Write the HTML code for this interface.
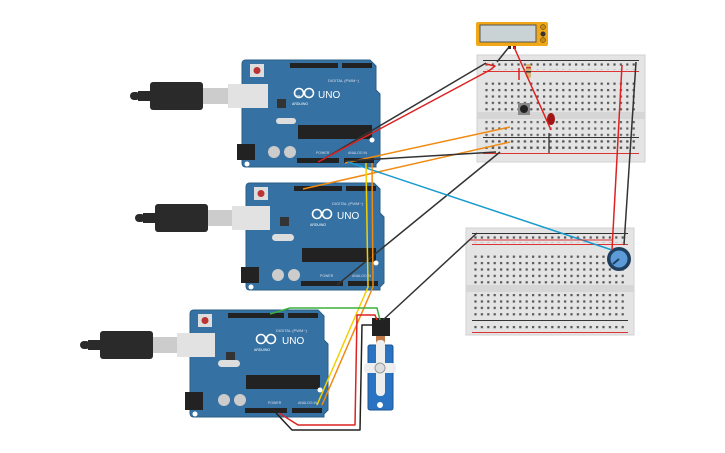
<!DOCTYPE html>
<html><head><meta charset="utf-8"><style>
html,body{margin:0;padding:0;background:#fff;width:725px;height:453px;overflow:hidden}
svg{display:block}
text{font-family:"Liberation Sans",sans-serif}
</style></head><body>
<svg width="725" height="453" viewBox="0 0 725 453" xmlns="http://www.w3.org/2000/svg">
<defs>
<pattern id="dots" width="6.4" height="6.4" patternUnits="userSpaceOnUse">
<rect x="2" y="2" width="2.2" height="2.2" fill="#555"/>
</pattern>
</defs>

<!-- ===== Breadboard 1 ===== -->
<g transform="translate(477,55)">
<rect width="168" height="107" fill="#e4e4e4" stroke="#d2d2d2"/>
<rect x="6" y="5" width="156" height="1" fill="#333"/>
<rect x="6" y="16" width="156" height="1" fill="#d33"/>
<rect x="8" y="7" width="152" height="8" fill="url(#dots)"/>
<rect x="8" y="24" width="152" height="33" fill="url(#dots)"/>
<rect x="0" y="57" width="168" height="7" fill="#d6d6d6"/>
<rect x="8" y="64" width="152" height="32" fill="url(#dots)" opacity="0.9"/>
<rect x="6" y="82" width="156" height="1" fill="#333"/>
<rect x="8" y="86" width="152" height="8" fill="url(#dots)"/>
<rect x="6" y="98" width="156" height="1" fill="#d33"/>
</g>
<!-- ===== Breadboard 2 ===== -->
<g transform="translate(466,228)">
<rect width="168" height="107" fill="#e4e4e4" stroke="#d2d2d2"/>
<rect x="6" y="5" width="156" height="1" fill="#333"/>
<rect x="6" y="16" width="156" height="1" fill="#d33"/>
<rect x="8" y="7" width="152" height="8" fill="url(#dots)"/>
<rect x="8" y="24" width="152" height="33" fill="url(#dots)"/>
<rect x="0" y="57" width="168" height="7" fill="#d6d6d6"/>
<rect x="8" y="64" width="152" height="26" fill="url(#dots)"/>
<rect x="6" y="92" width="156" height="1" fill="#333"/>
<rect x="8" y="94" width="152" height="8" fill="url(#dots)"/>
<rect x="6" y="104" width="156" height="1" fill="#d33"/>
</g>

<!-- meter / LCD -->
<rect x="476" y="22" width="72" height="24" rx="2" fill="#f0a818"/>
<rect x="480" y="25" width="56" height="17" fill="#c9d3d6" stroke="#555"/>
<circle cx="543" cy="27" r="2.5" fill="#c98a10" stroke="#333" stroke-width=".5"/>
<circle cx="543" cy="34" r="2.5" fill="#333"/>
<circle cx="543" cy="40" r="2.5" fill="#c98a10" stroke="#333" stroke-width=".5"/>
<rect x="508" y="46" width="3" height="3" fill="#222"/><rect x="513" y="46" width="3" height="3" fill="#c00"/>

<!-- resistor, button, LED -->
<rect x="526" y="64" width="5" height="14" rx="2" fill="#d8b070"/>
<rect x="526" y="67" width="5" height="1.5" fill="#c33"/><rect x="526" y="71" width="5" height="1.5" fill="#333"/>
<rect x="518" y="103" width="12" height="12" fill="#888"/><circle cx="524" cy="109" r="4" fill="#222"/>
<ellipse cx="551" cy="119" rx="4" ry="6" fill="#a01515"/>
<line x1="519" y1="68" x2="519" y2="80" stroke="#d22" stroke-width="1.5"/>
<line x1="549" y1="133" x2="549" y2="153" stroke="#333" stroke-width="1.3"/>

<!-- ===== Arduino boards ===== -->
<g id="a1" transform="translate(242,60)">
<path d="M0 4 Q0 0 4 0 H128 L134 6 V30 L138 34 V100 L134 104 V107 H4 Q0 107 0 103 Z" fill="#3572a3" stroke="#2a5d86"/>
<rect x="8" y="4" width="14" height="13" fill="#ddd"/><circle cx="15" cy="10.5" r="3.5" fill="#b33"/>
<rect x="48" y="3" width="48" height="5" fill="#222"/><rect x="100" y="3" width="30" height="5" fill="#222"/>
<text x="86" y="22" font-size="4" fill="#dde">DIGITAL (PWM~)</text>
<text x="54" y="38" font-size="6" fill="#fff">∞</text>
<circle cx="57" cy="33" r="4.5" fill="none" stroke="#fff" stroke-width="1.6"/><circle cx="67" cy="33" r="4.5" fill="none" stroke="#fff" stroke-width="1.6"/>
<text x="50" y="45" font-size="3.5" fill="#fff">ARDUINO</text>
<text x="76" y="38" font-size="10" fill="#fff">UNO</text>
<rect x="35" y="39" width="9" height="9" fill="#333"/>
<rect x="34" y="58" width="20" height="6" rx="3" fill="#ddd"/>
<rect x="56" y="65" width="74" height="14" fill="#222"/>
<rect x="-5" y="84" width="18" height="16" fill="#222"/>
<circle cx="32" cy="92" r="6" fill="#ccc"/><circle cx="48" cy="92" r="6" fill="#ccc"/>
<rect x="55" y="98" width="42" height="5" fill="#222"/><rect x="102" y="98" width="30" height="5" fill="#222"/>
<text x="74" y="94" font-size="3.5" fill="#dde">POWER</text><text x="106" y="94" font-size="3.5" fill="#dde">ANALOG IN</text>
<circle cx="5" cy="104" r="2.5" fill="#fff"/><circle cx="130" cy="80" r="2.5" fill="#fff"/>
</g>
<g transform="translate(246,183)">
<path d="M0 4 Q0 0 4 0 H128 L134 6 V30 L138 34 V100 L134 104 V107 H4 Q0 107 0 103 Z" fill="#3572a3" stroke="#2a5d86"/>
<rect x="8" y="4" width="14" height="13" fill="#ddd"/><circle cx="15" cy="10.5" r="3.5" fill="#b33"/>
<rect x="48" y="3" width="48" height="5" fill="#222"/><rect x="100" y="3" width="30" height="5" fill="#222"/>
<text x="86" y="22" font-size="4" fill="#dde">DIGITAL (PWM~)</text>
<circle cx="71" cy="31" r="4.5" fill="none" stroke="#fff" stroke-width="1.6"/><circle cx="81" cy="31" r="4.5" fill="none" stroke="#fff" stroke-width="1.6"/>
<text x="64" y="43" font-size="3.5" fill="#fff">ARDUINO</text>
<text x="91" y="36" font-size="10" fill="#fff">UNO</text>
<rect x="34" y="34" width="9" height="9" fill="#333"/>
<rect x="26" y="51" width="22" height="7" rx="3.5" fill="#ddd"/>
<rect x="56" y="65" width="74" height="14" fill="#222"/>
<rect x="-5" y="84" width="18" height="16" fill="#222"/>
<circle cx="32" cy="92" r="6" fill="#ccc"/><circle cx="48" cy="92" r="6" fill="#ccc"/>
<rect x="55" y="98" width="42" height="5" fill="#222"/><rect x="102" y="98" width="30" height="5" fill="#222"/>
<text x="74" y="94" font-size="3.5" fill="#dde">POWER</text><text x="106" y="94" font-size="3.5" fill="#dde">ANALOG IN</text>
<circle cx="5" cy="104" r="2.5" fill="#fff"/><circle cx="130" cy="80" r="2.5" fill="#fff"/>
</g>
<g transform="translate(190,310)">
<path d="M0 4 Q0 0 4 0 H128 L134 6 V30 L138 34 V100 L134 104 V107 H4 Q0 107 0 103 Z" fill="#3572a3" stroke="#2a5d86"/>
<rect x="8" y="4" width="14" height="13" fill="#ddd"/><circle cx="15" cy="10.5" r="3.5" fill="#b33"/>
<rect x="38" y="3" width="56" height="5" fill="#222"/><rect x="98" y="3" width="30" height="5" fill="#222"/>
<text x="86" y="22" font-size="4" fill="#dde">DIGITAL (PWM~)</text>
<circle cx="71" cy="29" r="4.5" fill="none" stroke="#fff" stroke-width="1.6"/><circle cx="81" cy="29" r="4.5" fill="none" stroke="#fff" stroke-width="1.6"/>
<text x="64" y="41" font-size="3.5" fill="#fff">ARDUINO</text>
<text x="92" y="34" font-size="10" fill="#fff">UNO</text>
<rect x="36" y="42" width="9" height="9" fill="#333"/>
<rect x="28" y="50" width="22" height="7" rx="3.5" fill="#ddd"/>
<rect x="56" y="65" width="74" height="14" fill="#222"/>
<rect x="-5" y="82" width="18" height="18" fill="#222"/>
<circle cx="34" cy="90" r="6" fill="#ccc"/><circle cx="50" cy="90" r="6" fill="#ccc"/>
<rect x="55" y="98" width="42" height="5" fill="#222"/><rect x="102" y="98" width="30" height="5" fill="#222"/>
<text x="78" y="94" font-size="3.5" fill="#dde">POWER</text><text x="108" y="94" font-size="3.5" fill="#dde">ANALOG IN</text>
<circle cx="5" cy="104" r="2.5" fill="#fff"/><circle cx="130" cy="80" r="2.5" fill="#fff"/>
</g>

<!-- USB cables -->
<g>
<rect x="228" y="84" width="40" height="24" fill="#e2e2e2"/><rect x="203" y="88" width="25" height="16" fill="#ccc"/>
<rect x="150" y="82" width="53" height="28" rx="3" fill="#2a2a2a"/><rect x="138" y="91" width="14" height="10" fill="#2a2a2a"/><rect x="130" y="92" width="10" height="8" rx="4" fill="#2a2a2a"/>
<rect x="232" y="206" width="38" height="24" fill="#e2e2e2"/><rect x="208" y="210" width="24" height="16" fill="#ccc"/>
<rect x="155" y="204" width="53" height="28" rx="3" fill="#2a2a2a"/><rect x="143" y="213" width="14" height="10" fill="#2a2a2a"/><rect x="135" y="214" width="10" height="8" rx="4" fill="#2a2a2a"/>
<rect x="177" y="333" width="38" height="24" fill="#e2e2e2"/><rect x="152" y="337" width="25" height="16" fill="#ccc"/>
<rect x="100" y="331" width="53" height="28" rx="3" fill="#2a2a2a"/><rect x="88" y="340" width="14" height="10" fill="#2a2a2a"/><rect x="80" y="341" width="10" height="8" rx="4" fill="#2a2a2a"/>
</g>

<!-- servo -->
<rect x="368" y="345" width="25" height="65" rx="2" fill="#2a73c2" stroke="#1b5590"/>
<rect x="376" y="336" width="9" height="10" fill="#c07a4a"/>
<rect x="376" y="340" width="9" height="56" rx="4" fill="#eee"/>
<rect x="364" y="363" width="32" height="10" rx="4" fill="#eee"/>
<circle cx="380" cy="368" r="5" fill="#ddd" stroke="#999"/>
<circle cx="380" cy="405" r="3" fill="#fff"/>
<rect x="372" y="318" width="18" height="18" fill="#222"/>

<!-- potentiometer -->
<circle cx="619" cy="259" r="12" fill="#1f3f5e"/><circle cx="619" cy="259" r="8.5" fill="#5d9bd8"/>
<line x1="619" y1="259" x2="613" y2="264" stroke="#1f3f5e" stroke-width="2"/>

<!-- wires -->
<g fill="none" stroke-width="1.5" stroke-linejoin="round">
<polyline points="509,47 497,62" stroke="#333"/>
<polyline points="514,47 551,130" stroke="#d22"/>
<polyline points="486,63 322,160" stroke="#333"/>
<polyline points="318,162 490,70 495,66 486,64" stroke="#d22"/>
<polyline points="345,163 510,127" stroke="#f08a10"/>
<polyline points="303,189 510,142" stroke="#f08a10"/>
<polyline points="345,161 496,152" stroke="#333"/>
<polyline points="337,285 500,152" stroke="#333"/>
<polyline points="348,162 612,250" stroke="#1a9bd0"/>
<polyline points="477,233 383,320" stroke="#333"/>
<polyline points="622,65 612,250" stroke="#d22"/>
<polyline points="636,62 624,245" stroke="#333"/>
<polyline points="470,240 612,240" stroke="#d33" stroke-width="1"/>
<polyline points="366,163 368,287 317,405" stroke="#f2d000"/>
<polyline points="372,163 373,287 322,405" stroke="#f08a10"/>
<polyline points="270,314 290,308 377,308 380,320" stroke="#3bb03b"/>
<polyline points="279,413 298,425 355,425 357,315 375,315 377,320" stroke="#d22"/>
<polyline points="276,413 292,430 360,430 362,325 372,325" stroke="#222"/>
</g>
</svg>
</body></html>
